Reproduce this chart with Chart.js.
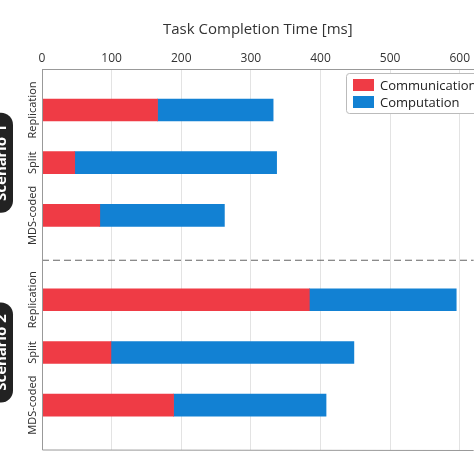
<!DOCTYPE html>
<html><head><meta charset="utf-8">
<script src="https://cdn.jsdelivr.net/npm/chart.js@4"></script>
<style>html,body{margin:0;padding:0;background:#fff}#w{width:474px;height:474px}</style>
</head><body><div id="w"><canvas id="c"></canvas></div>
<script>
const categories = ["Replication","Split","MDS-coded","Replication","Split","MDS-coded"];
const rowPos = [0,1,2,3.6,4.6,5.6];
const communication = [166,47,83,384,99,189];
const computation = [166,290,179,211,349,219];
const xTicks = [0,100,200,300,400,500,600];
const scenarios = ["Scenario 1","Scenario 2"];

const commData = rowPos.map((y,i)=>({x:[0,communication[i]],y}));
const compData = rowPos.map((y,i)=>({x:[communication[i],communication[i]+computation[i]],y}));

const deco = {
  id:'deco',
  afterDraw(chart){
    const {ctx,chartArea:a,scales:{x,y}} = chart;
    ctx.save();
    const yd = y.getPixelForValue(2.85);
    ctx.setLineDash([7,4]); ctx.strokeStyle='#666'; ctx.lineWidth=1.2;
    ctx.beginPath(); ctx.moveTo(a.left,yd); ctx.lineTo(a.right,yd); ctx.stroke();
    ctx.setLineDash([]);
    ctx.fillStyle='#333'; ctx.font='11px "Noto Sans"'; ctx.textAlign='center'; ctx.textBaseline='middle';
    rowPos.forEach((p,i)=>{
      const py=y.getPixelForValue(p);
      ctx.save(); ctx.translate(33,py); ctx.rotate(-Math.PI/2); ctx.fillText(categories[i],0,0); ctx.restore();
    });
    [[1,scenarios[0]],[4.6,scenarios[1]]].forEach(([c,t])=>{
      const cy=y.getPixelForValue(c);
      ctx.fillStyle='#222';
      ctx.beginPath(); ctx.roundRect(-30,cy-50,43,100,12); ctx.fill();
      ctx.save(); ctx.translate(2,cy); ctx.rotate(-Math.PI/2);
      ctx.fillStyle='#fff'; ctx.font='bold 15px "Noto Sans"'; ctx.fillText(t,0,0); ctx.restore();
    });
    ctx.fillStyle='#fff'; ctx.strokeStyle='#bbb'; ctx.lineWidth=1;
    ctx.beginPath(); ctx.roundRect(346.5,73.5,140,40,3); ctx.fill(); ctx.stroke();
    const items=[['Communication','#ef3b45'],['Computation','#1281d3']];
    items.forEach(([t,col],i)=>{
      const ly=85+i*17;
      ctx.fillStyle=col; ctx.fillRect(353,ly-6,21,12);
      ctx.fillStyle='#222'; ctx.font='13px "Open Sans"'; ctx.textAlign='left';
      ctx.fillText(t,380,ly+1);
    });
    ctx.restore();
  }
};

new Chart(document.getElementById('c'),{
  type:'bar',
  data:{datasets:[
    {label:'Communication',data:commData,backgroundColor:'#ef3b45',barThickness:22,grouped:false},
    {label:'Computation',data:compData,backgroundColor:'#1281d3',barThickness:22,grouped:false}
  ]},
  options:{
    indexAxis:'y',responsive:true,maintainAspectRatio:false,animation:false,
    layout:{padding:{left:42,right:0,bottom:24,top:17}},
    plugins:{legend:{display:false},tooltip:{enabled:false}},
    scales:{
      x:{type:'linear',position:'top',min:0,max:620,
        afterBuildTicks(s){s.ticks=xTicks.map(v=>({value:v}));},
        ticks:{color:'#333',font:{size:12,family:'"Open Sans"'},padding:4},
        grid:{color:'#e3e3e3',drawTicks:false},border:{color:'#999'},
        title:{display:true,text:'Task Completion Time [ms]',color:'#333',font:{size:15,family:'"Open Sans"'},padding:{bottom:8}}},
      y:{type:'linear',reverse:true,min:-0.77,max:6.45,offset:false,display:false}
    }
  },
  plugins:[deco,{id:'yb',afterDraw(c){const {ctx,chartArea:a}=c;ctx.save();ctx.strokeStyle='#999';ctx.beginPath();ctx.moveTo(a.left+0.5,a.top);ctx.lineTo(a.left+0.5,a.bottom);ctx.lineTo(a.right,a.bottom+0.5);ctx.stroke();ctx.restore();}}]
});
</script></body></html>
